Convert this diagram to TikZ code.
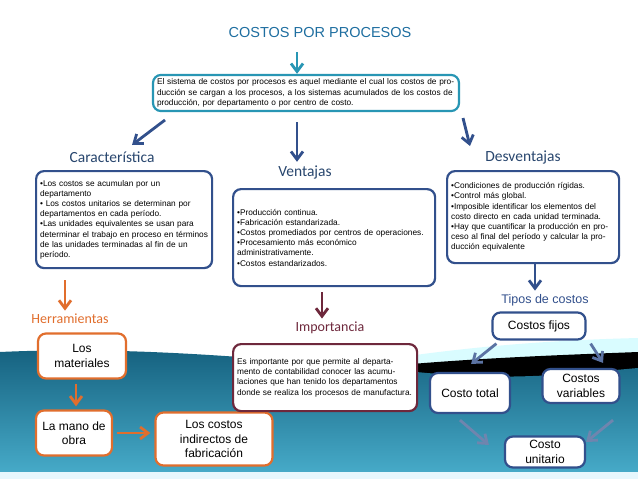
\documentclass[tikz,border=0pt]{standalone}
\usepackage{fontspec}
\usetikzlibrary{calc,arrows.meta}
\setmainfont{Liberation Sans}
\newfontfamily\calfont{Carlito}
\begin{document}
\begin{tikzpicture}[x=1pt,y=-1pt,
  box/.style={draw,rounded corners=8pt,line width=2.2pt,fill=white,inner sep=4pt},
  small/.style={font=\fontsize{8.3}{10.2}\selectfont,align=left},
  big/.style={font=\fontsize{12}{14.5}\selectfont,align=center},
  head/.style={font=\calfont\fontsize{15.5}{18}\selectfont,anchor=center},
  arr/.style={-{Straight Barb[length=8pt,width=12pt]},line width=2.8pt}]
\definecolor{tealc}{RGB}{40,150,180}
\definecolor{ttl}{RGB}{30,110,160}
\definecolor{dblue}{RGB}{50,80,140}
\definecolor{hblue}{RGB}{40,70,110}
\definecolor{orng}{RGB}{225,110,45}
\definecolor{maroon}{RGB}{110,40,60}
\definecolor{seaA}{RGB}{20,95,125}
\definecolor{seaB}{RGB}{70,170,200}
\useasboundingbox (0,0) rectangle (638,479);
\fill[white] (0,0) rectangle (638,479);
% background wave
\fill[blue!8!cyan!15] (380,360) .. controls (480,345) and (560,340) .. (638,338) -- (638,372) -- (380,372) -- cycle;
\fill[black] (400,365) .. controls (480,358) and (560,355) .. (638,352) -- (638,395) -- (400,395) -- cycle;
\shade[top color=seaA,bottom color=seaB] (0,352) .. controls (150,345) and (300,362) .. (450,375) .. controls (530,380) and (590,372) .. (638,368) -- (638,472) -- (0,472) -- cycle;
\fill[cyan!10] (0,472) rectangle (638,479);
% title
\node[text=ttl,font=\fontsize{14.5}{17}\selectfont] (t) at (320,33) {COSTOS POR PROCESOS};
\node[box,draw=tealc,small,text width=298pt,align=left] (top) at (306,93) {\raggedright El sistema de costos por procesos es aquel mediante el cual los costos de producción se cargan a los procesos, a los sistemas acumulados de los costos de producción, por departamento o por centro de costo.};
\coordinate (a1) at (297,52);
\draw[arr,tealc] (a1) -- (top.north-|a1);
% heads
\node[head,text=hblue] (car) at (112,157) {Característica};
\node[text=hblue,font=\calfont\fontsize{11}{12}\selectfont] at (69,174) {s};
\node[head,text=hblue] (ven) at (305,172) {Ventajas};
\node[head,text=hblue] (des) at (523,157) {Desventajas};
\coordinate (c1) at (165,120); \coordinate (c3) at (463,118); \coordinate (c2) at (297,122);
\draw[arr,dblue] (c1) -- (132,145);
\draw[arr,dblue] (c2) -- (ven.north-|c2);
\draw[arr,dblue] (c3) -- (470,146);
% boxes
\node[box,draw=dblue,small,text width=168pt,minimum height=97pt,anchor=north west] (lb) at (35,170) {\raggedright\textbullet Los costos se acumulan por un departamento\\
\textbullet\ Los costos unitarios se determinan por departamentos en cada período.\\
\textbullet Las unidades equivalentes se usan para determinar el trabajo en proceso en términos de las unidades terminadas al fin de un período.\\[8pt]};
\node[box,draw=dblue,small,text width=194pt,minimum height=97pt,anchor=north west] (mb) at (232,188) {\raggedright\textbullet Producción continua.\\
\textbullet Fabricación estandarizada.\\
\textbullet Costos promediados por centros de operaciones.\\
\textbullet Procesamiento más económico administrativamente.\\
\textbullet Costos estandarizados.};
\node[box,draw=dblue,small,text width=164pt,minimum height=92pt,anchor=north west] (rb) at (446,170) {\raggedright\textbullet Condiciones de producción rígidas.\\
\textbullet Control más global.\\
\textbullet Imposible identificar los elementos del costo directo en cada unidad terminada.\\
\textbullet Hay que cuantificar la producción en proceso al final del período y calcular la producción equivalente};
% tipos de costos
\node[text=dblue,font=\fontsize{12.5}{14}\selectfont] (tip) at (545,300) {Tipos de costos};
\draw[arr,dblue] (rb.south-|535,0) -- (tip.north-|535,0);
\node[box,draw=dblue,big,minimum width=93pt,minimum height=27pt] (cf) at (539,326) {Costos fijos};
\node[box,draw=dblue,big,minimum width=80pt,minimum height=40pt] (ct) at (470,393) {Costo total};
\node[box,draw=dblue,big,minimum width=77pt,minimum height=34pt] (cv) at (581,386) {Costos\\variables};
\node[box,draw=dblue,big,minimum width=80pt,minimum height=31pt] (cu) at (545,452) {Costo\\unitario};
\draw[arr,dblue!80] ($(cf.south west)+(5,3)$) -- ($(ct.north east)+(-40,-8)$);
\draw[arr,dblue!80] ($(cf.south east)+(4,3)$) -- ($(cv.north)+(22,-5)$);
\draw[arr,dblue!70] ($(ct.south)+(-10,6)$) -- ($(cu.west)+(-15,-7)$);
\draw[arr,dblue!70] ($(cv.south)+(32,16)$) -- ($(cu.east)+(0,-10)$);
% herramientas
\node[text=orng,font=\calfont\fontsize{14}{16}\selectfont] (her) at (70,319) {Herramientas};
\coordinate (h0) at (65,280);
\draw[arr,orng] (h0) -- (her.north-|h0);
\node[box,draw=orng,big,minimum width=88pt,minimum height=45pt] (lm) at (82,356) {Los\\materiales};
\node[box,draw=orng,big,minimum width=76pt,minimum height=45pt] (mo) at (74,433) {La mano de\\obra};
\node[box,draw=orng,big,minimum width=117pt,minimum height=53pt] (ci) at (214,439) {Los costos\\indirectos de\\fabricación};
\draw[arr,orng] ($(lm.south-|76,0)+(0,4)$) -- ($(mo.north-|76,0)+(0,-3)$);
\draw[arr,orng] ($(mo.east)+(4,0)$) -- ($(ci.west)+(-4,-6)$);
% importancia
\node[text=maroon,font=\calfont\fontsize{14}{16}\selectfont] (imp) at (330,328) {Importancia};
\draw[arr,maroon] ($(mb.south-|322,0)+(0,5)$) -- (imp.north-|322,0);
\node[box,draw=maroon,small,text width=176pt,minimum height=67pt,anchor=north west] (ib) at (232,343) {\raggedright Es importante por que permite al departamento de contabilidad conocer las acumulaciones que han tenido los departamentos donde se realiza los procesos de manufactura.};
\end{tikzpicture}
\end{document}
